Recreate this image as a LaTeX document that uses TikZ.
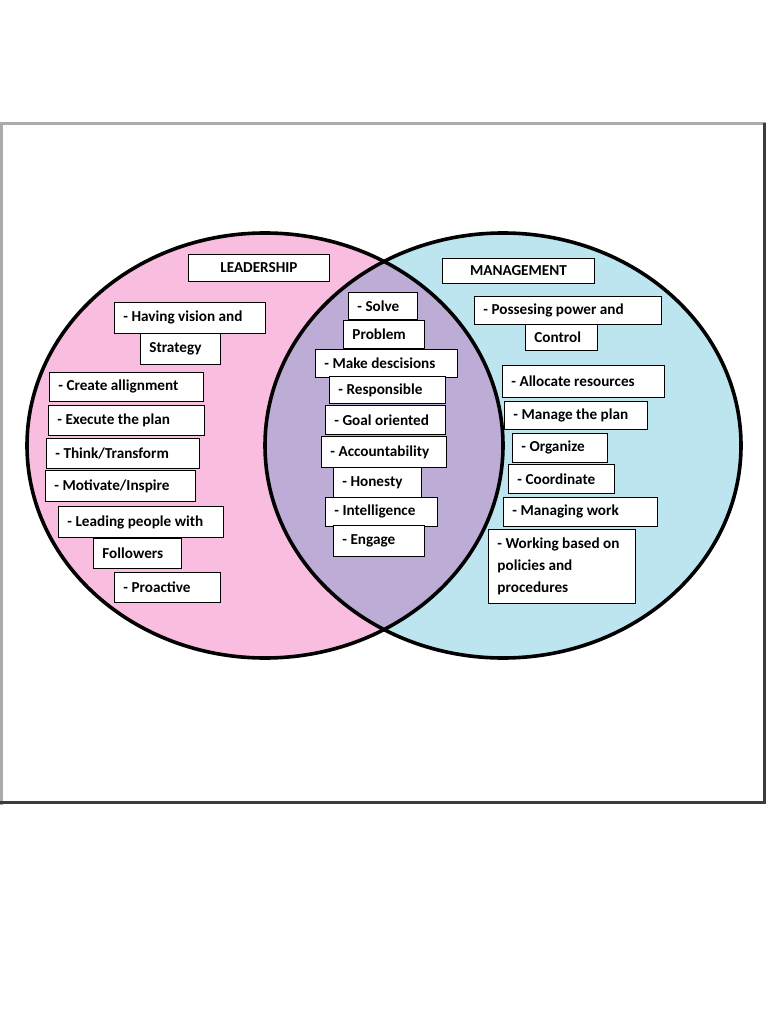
\documentclass[tikz,border=0pt]{standalone}
\usepackage{fontspec}
\setmainfont{Carlito}
\definecolor{pinkc}{HTML}{F9BEDF}
\definecolor{bluec}{HTML}{BDE5F0}
\definecolor{purpc}{HTML}{BCACD6}
\definecolor{lgray}{HTML}{ABABAB}
\definecolor{dgray}{HTML}{3C3C3C}
\newcommand\Bx[6]{%
  \pgfmathsetmacro\tw{#4-18}%
  \node[bx, minimum width=#4pt, minimum height=#5pt, text width=\tw pt] (#1) at (#2,#3) {#6};}
\newcommand\Cx[6]{%
  \node[bx, minimum width=#4pt, minimum height=#5pt, align=center] (#1) at (#2,#3) {#6};}
\begin{document}
\begin{tikzpicture}[x=1pt,y=-1pt,
  bx/.style={draw=black, line width=0.9pt, fill=white, anchor=north west,
    inner xsep=9pt, inner ysep=0pt, align=flush left,
    font=\fontsize{15.2}{22}\selectfont\bfseries},
  ring/.style={draw=black, line width=3.6pt}]
\useasboundingbox (0,0) rectangle (768,1024);
% frame
\draw[lgray, line width=3pt] (1.5,805) -- (1.5,123.5) -- (766,123.5);
\draw[dgray, line width=3.5pt] (764.5,123) -- (764.5,802.5) -- (0,802.5);
% ellipses
\fill[pinkc] (265,445.5) ellipse [x radius=238pt, y radius=212.5pt];
\fill[bluec] (503,445.5) ellipse [x radius=238pt, y radius=212.5pt];
\begin{scope}
\clip (265,445.5) ellipse [x radius=238pt, y radius=212.5pt];
\fill[purpc] (503,445.5) ellipse [x radius=238pt, y radius=212.5pt];
\end{scope}
\draw[ring] (265,445.5) ellipse [x radius=238pt, y radius=212.5pt];
\draw[ring] (503,445.5) ellipse [x radius=238pt, y radius=212.5pt];
% leadership
\Cx{L0}{188}{254}{141}{27}{LEADERSHIP}
\Bx{L1}{114}{302}{151}{31}{- Having vision and}
\Bx{L2}{140}{333}{80}{31}{Strategy}
\Bx{L3}{49}{372}{154}{29}{- Create allignment}
\Bx{L4}{48}{405}{156}{30}{- Execute the plan}
\Bx{L5}{46}{438}{153}{30}{- Think/Transform}
\Bx{L6}{45}{470}{150}{31}{- Motivate/Inspire}
\Bx{L7}{58}{506}{165}{31}{- Leading people with}
\Bx{L8}{93}{538}{88}{30}{Followers}
\Bx{L9}{114}{572}{106}{30}{- Proactive}
% common
\Bx{M1}{348}{292}{69}{27}{- Solve}
\Bx{M2}{343}{320}{81}{28}{Problem}
\Bx{M3}{315}{349}{142}{28}{- Make descisions}
\Bx{M4}{329}{376}{116}{27}{- Responsible}
\Bx{M5}{325}{405}{120}{29}{- Goal oriented}
\Bx{M6}{321}{436}{125}{31}{- Accountability}
\Bx{M7}{333}{467}{88}{30}{- Honesty}
\Bx{M8}{325}{497}{112}{29}{- Intelligence}
\Bx{M9}{333}{525}{91}{31}{- Engage}
% management
\Cx{R0}{442}{258}{152}{25}{MANAGEMENT}
\Bx{R1}{474}{296}{187}{28}{- Possesing power and}
\Bx{R2}{525}{324}{72}{26}{Control}
\Bx{R3}{502}{365}{162}{32}{- Allocate resources}
\Bx{R4}{504}{401}{143}{28}{- Manage the plan}
\Bx{R5}{512}{433}{95}{29}{- Organize}
\Bx{R6}{508}{464}{106}{29}{- Coordinate}
\Bx{R7}{503}{497}{154}{29}{- Managing work}
\Bx{R8}{488}{529}{147}{74}{- Working based on\\policies and\\procedures}
\end{tikzpicture}
\end{document}
